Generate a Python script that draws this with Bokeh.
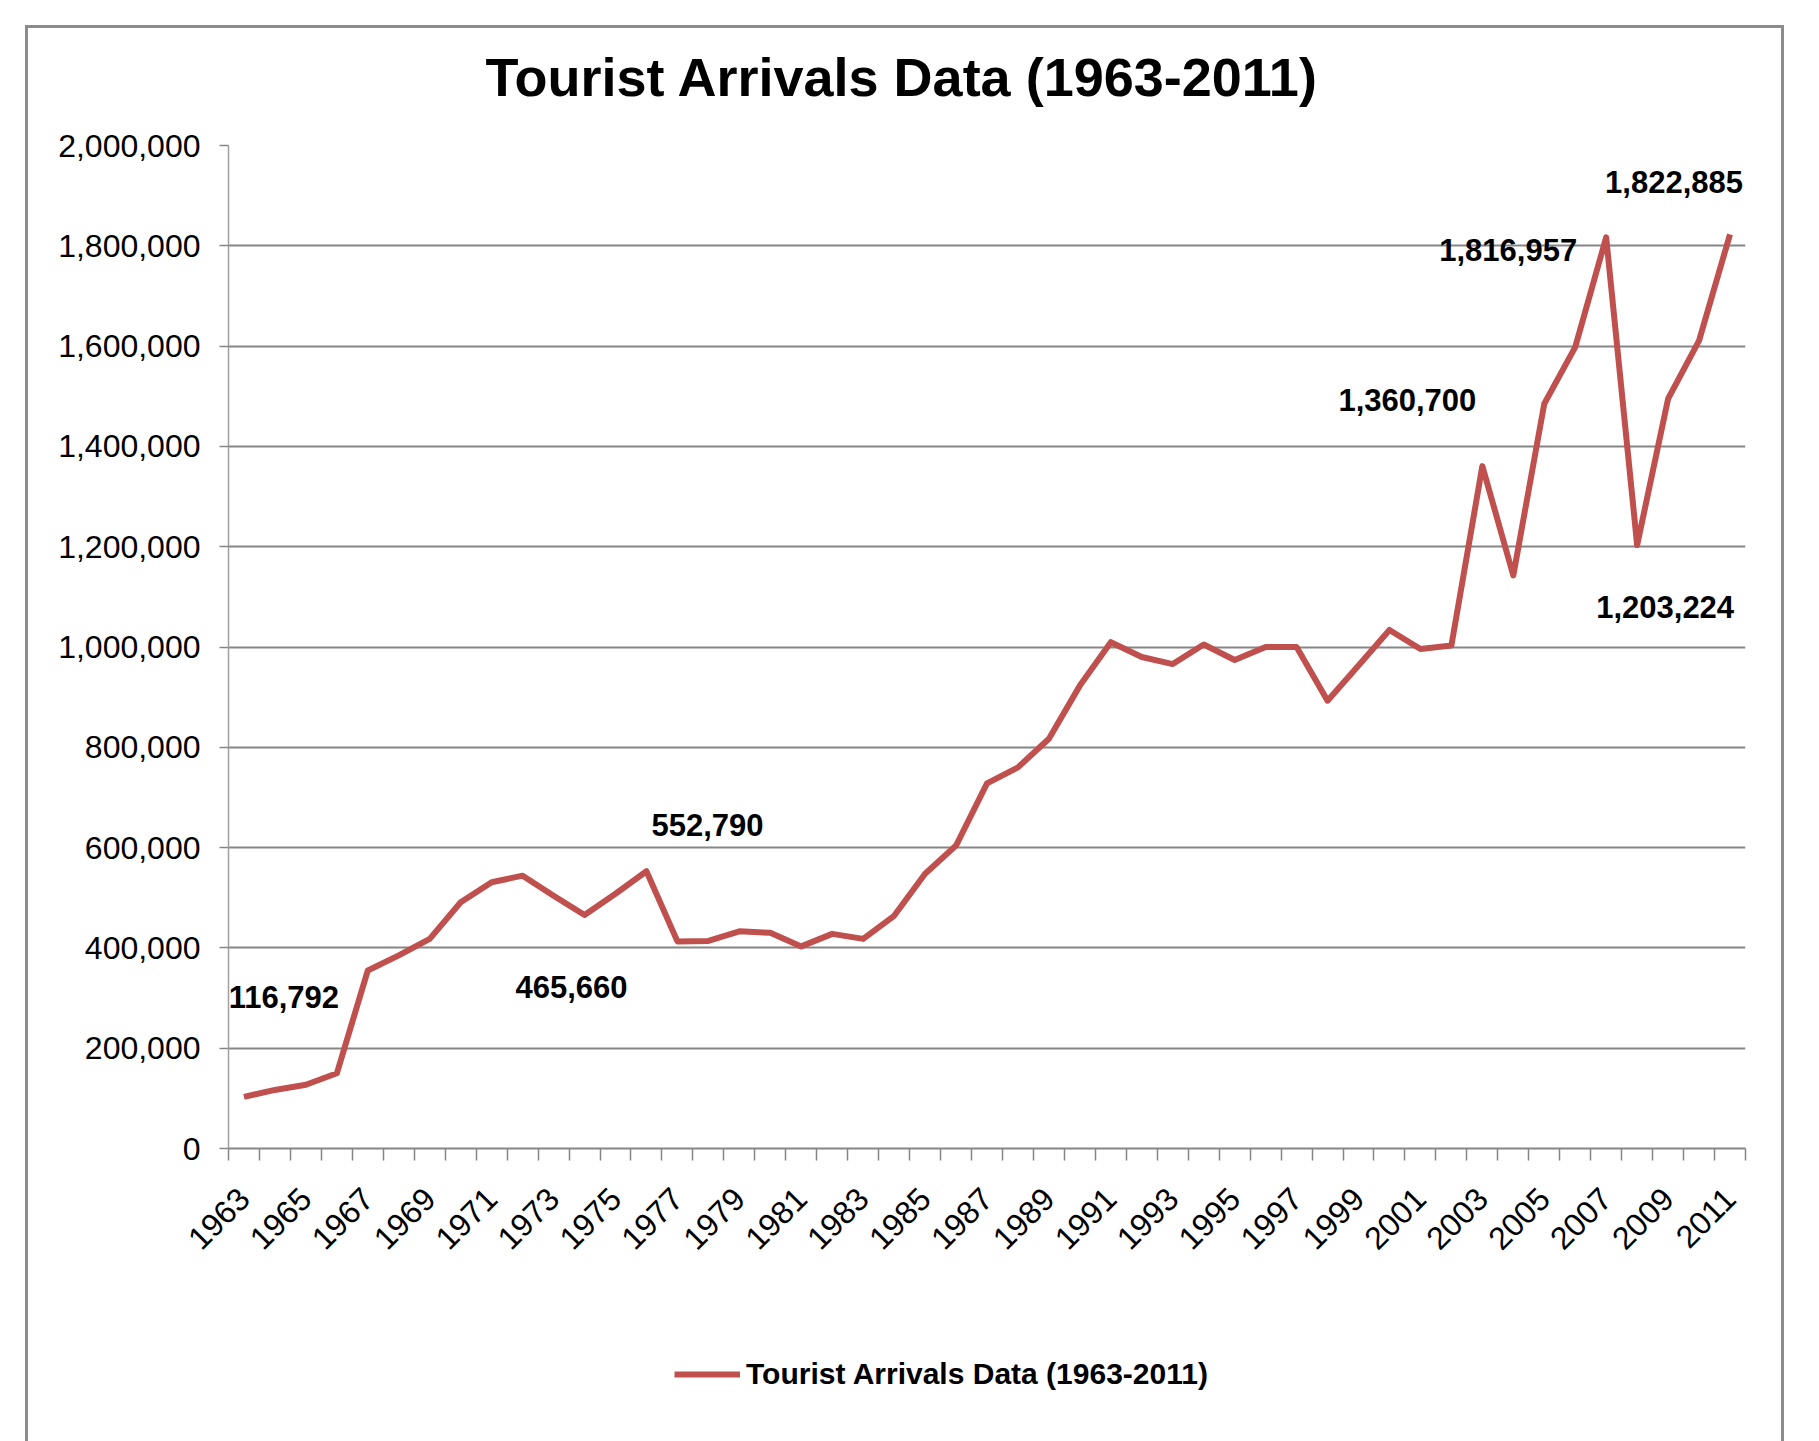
import math
from bokeh.plotting import figure
from bokeh.layouts import column
from bokeh.models import (Range1d, FixedTicker, NumeralTickFormatter, Legend, LegendItem,
                          ColumnDataSource, LabelSet)
from bokeh.core.properties import value
from bokeh.embed import file_html
from bokeh.resources import INLINE

# ---------------- data ----------------
years = list(range(1963, 2012))
arrivals = [
    103000, 116792, 127000, 150000, 355000, 385000, 418000, 491000, 531000, 544000,
    504000, 465660, 508000, 552790, 413000, 414000, 433000, 430000, 403000, 428000,
    418000, 464000, 548000, 604000, 728000, 760000, 817000, 923000, 1009600, 980000,
    966000, 1005000, 974000, 1000000, 1000000, 893000, 963000, 1034000, 996000, 1003000,
    1360700, 1142600, 1485000, 1598000, 1816957, 1203224, 1495000, 1611000, 1822885,
]
label_years = [1964, 1974, 1976, 2003, 2007, 2008, 2011]
tick_years = list(range(1963, 2012, 2))
y_ticks = list(range(0, 2000001, 200000))
series_name = "Tourist Arrivals Data (1963-2011)"
title_text = "Tourist Arrivals Data (1963-2011)"

# label placement (screen px offsets, up positive) -- layout only
label_dx = [9, -13, 61, -75, -98, 28, -56]
label_dy = [93, -72, 46, 66, -13, -62, 52]

RED = "#C0504D"
GRID = "#868686"
SANS = "Liberation Sans"

W = 1753
H_TITLE = 97
H_MAIN = 1165
H_LEG = 151


def bare(height, **kw):
    f = figure(width=W, height=height, x_range=Range1d(0, 1), y_range=Range1d(0, 1),
               output_backend="svg", toolbar_location=None, tools="",
               x_axis_location=None, y_axis_location=None,
               background_fill_color="white", border_fill_color="white", **kw)
    f.outline_line_color = None
    f.xgrid.visible = False
    f.ygrid.visible = False
    return f


# title strip
pt = bare(H_TITLE, min_border_left=0, min_border_right=0, min_border_top=78, min_border_bottom=0)
pt.title.text = title_text
pt.title.text_font = SANS
pt.title.text_font_style = "bold"
pt.title.text_font_size = "54px"
pt.title.text_color = "black"
pt.title.align = "left"
pt.title.offset = 257
pt.title.standoff = 0

# main chart
p = figure(width=W, height=H_MAIN, x_range=Range1d(1962.5, 2011.5), y_range=Range1d(0, 2000000),
           output_backend="svg", toolbar_location=None, tools="",
           min_border_left=200, min_border_right=36, min_border_top=20, min_border_bottom=142,
           background_fill_color="white", border_fill_color="white")
p.outline_line_color = None

r = p.line(years, arrivals, line_color=RED, line_width=6, line_join="round")

# data labels
val_of = dict(zip(years, arrivals))
label_vals = [val_of[y] for y in label_years]
lsrc = ColumnDataSource(dict(x=label_years, y=label_vals,
                             text=[f"{v:,}" for v in label_vals],
                             dx=label_dx, dy=label_dy))
labels = LabelSet(x="x", y="y", text="text", x_offset="dx", y_offset="dy", source=lsrc,
                  text_font=value(SANS), text_font_style="bold", text_font_size="31px",
                  text_align="center", text_baseline="middle", text_color="black")
p.add_layout(labels)

# x axis
xa = p.xaxis[0]
xa.ticker = FixedTicker(ticks=tick_years, minor_ticks=[y - 0.5 for y in years] + [years[-1] + 0.5])
xa.major_tick_in = 0
xa.major_tick_out = 0
xa.minor_tick_in = 0
xa.minor_tick_out = 12
xa.minor_tick_line_color = GRID
xa.minor_tick_line_width = 1.5
xa.axis_line_color = GRID
xa.axis_line_width = 2
xa.major_label_orientation = math.pi / 4
xa.major_label_text_font = SANS
xa.major_label_text_font_size = "32px"
xa.major_label_text_color = "black"
xa.major_label_standoff = 33

# y axis
ya = p.yaxis[0]
ya.ticker = FixedTicker(ticks=y_ticks)
ya.formatter = NumeralTickFormatter(format="0,0")
ya.major_tick_in = 0
ya.major_tick_out = 9
ya.major_tick_line_color = GRID
ya.major_tick_line_width = 1.5
ya.minor_tick_out = 0
ya.minor_tick_in = 0
ya.axis_line_color = "#a0a0a0"
ya.axis_line_width = 1.5
ya.major_label_standoff = 19
ya.major_label_text_font = SANS
ya.major_label_text_font_size = "32px"
ya.major_label_text_color = "black"

p.xgrid.visible = False
p.ygrid.ticker = FixedTicker(ticks=y_ticks)
p.ygrid.grid_line_color = GRID
p.ygrid.grid_line_width = 2

# legend strip (own small plot; its series sits outside its ranges, only the key shows)
pl = bare(H_LEG, min_border_left=0, min_border_right=0, min_border_top=0, min_border_bottom=0)
rl = pl.line(years, arrivals, line_color=RED, line_width=6)
legend = Legend(items=[LegendItem(label=series_name, renderers=[rl])],
                location=(446, 50), orientation="horizontal",
                glyph_width=66, glyph_height=20, label_standoff=6,
                padding=0, margin=0, spacing=0,
                border_line_color=None, background_fill_alpha=0,
                label_text_font=SANS, label_text_font_style="bold",
                label_text_font_size="30px", label_text_color="black")
pl.add_layout(legend, "center")

root = column(pt, p, pl, spacing=0, styles={
    "margin-left": "25px", "margin-top": "25px",
    "border-left": "3px solid #8c8c8c", "border-top": "3px solid #8c8c8c",
    "border-right": "3px solid #8c8c8c",
})

open("out.html", "w").write(file_html(root, INLINE))
